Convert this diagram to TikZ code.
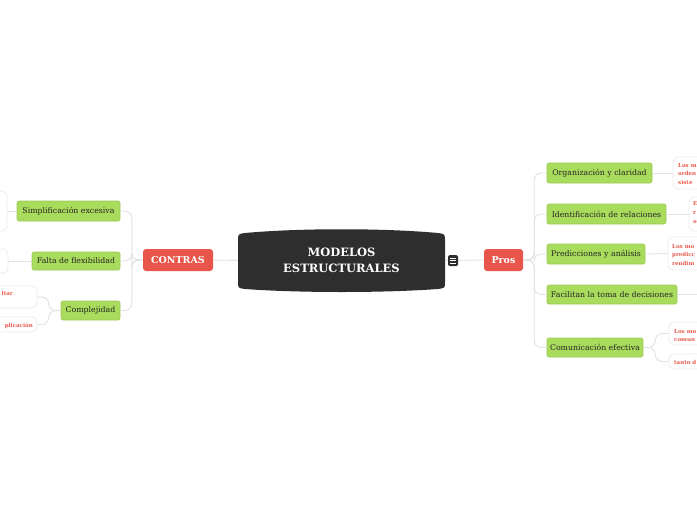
\documentclass[tikz,border=0pt]{standalone}
\usepackage{fontspec}
\setmainfont{DejaVu Serif}
\definecolor{linegray}{HTML}{E2E2E2}
\definecolor{greenfill}{HTML}{A9DB5C}
\definecolor{greenborder}{HTML}{9CCB58}
\definecolor{redfill}{HTML}{E8554A}
\definecolor{darkfill}{HTML}{2E2E2E}
\definecolor{notered}{HTML}{EA5A4E}
\definecolor{noteborder}{HTML}{ECECEC}
\begin{document}
\begin{tikzpicture}[x=1pt,y=-1pt,
  conn/.style={draw=linegray, line width=0.9pt, rounded corners=7pt},
  greennode/.style={rectangle, rounded corners=2pt, fill=greenfill, draw=greenborder, line width=0.6pt,
    font=\fontsize{7.8}{8.5}\selectfont, text=black!85, inner sep=0pt, minimum height=20pt},
  redbox/.style={rectangle, rounded corners=3pt, fill=redfill, text=white,
    font=\bfseries\fontsize{9.5}{10}\selectfont, inner sep=0pt, minimum height=22pt},
  notebox/.style={rectangle, draw=noteborder, fill=white, rounded corners=5pt, line width=0.8pt, inner sep=0pt},
  notetext/.style={text=notered, font=\bfseries\fontsize{5.5}{6.5}\selectfont, inner sep=0pt}
]
\useasboundingbox (0,0) rectangle (697,520);
\clip (0,0) rectangle (697,520);
\fill[white] (0,0) rectangle (697,520);

% central shape
\fill[darkfill] (238,241) -- (238,282) .. controls (238,288) .. (245,289)
  .. controls (300,293) and (383,293) .. (438,289) .. controls (445,288) .. (445,282)
  -- (445,241) .. controls (445,234) .. (438,233)
  .. controls (383,228) and (300,228) .. (245,233) .. controls (238,234) .. (238,241) -- cycle;
\node[minimum width=207pt, minimum height=60pt, inner sep=0pt, text=white, align=center,
  font=\bfseries\fontsize{11.5}{16}\selectfont] (center) at (341.5,260.5) {MODELOS\\ESTRUCTURALES};

% main red nodes
\node[redbox, minimum width=39pt] (pros) at (503.5,260) {Pros};
\node[redbox, minimum width=70pt] (contras) at (178,260) {CONTRAS};

% right green nodes
\node[greennode, minimum width=105pt] (r1) at (599.5,173) {Organización y claridad};
\node[greennode, minimum width=119pt] (r2) at (606.5,214) {Identificación de relaciones};
\node[greennode, minimum width=98pt] (r3) at (596,254) {Predicciones y análisis};
\node[greennode, minimum width=130pt, minimum height=19pt] (r4) at (612,294.5) {Facilitan la toma de decisiones};
\node[greennode, minimum width=96pt, minimum height=19pt] (r5) at (595,347.5) {Comunicación efectiva};

% left green nodes
\node[greennode, minimum width=103pt] (l1) at (68.5,211) {Simplificación excesiva};
\node[greennode, minimum width=88pt, minimum height=18pt] (l2) at (76,261) {Falta de flexibilidad};
\node[greennode, minimum width=59pt, minimum height=19pt] (l3) at (90.5,310.5) {Complejidad};

% right notes
\node[notebox, minimum width=67pt, minimum height=32pt] (n1) at (706.5,173) {};
\node[notebox, minimum width=60pt, minimum height=34pt] (n2) at (719,214) {};
\node[notebox, minimum width=67pt, minimum height=33pt] (n3) at (701.5,253.5) {};
\coordinate (n4) at (700,294.5);
\node[notebox, minimum width=67pt, minimum height=23pt] (c1) at (702.5,333.5) {};
\node[notebox, minimum width=67pt, minimum height=15pt] (c2) at (702.5,361.5) {};

\node[notetext, anchor=base west] (t1a) at (678,167) {Los m};
\node[notetext, anchor=base west] (t1b) at (678,175.5) {orden};
\node[notetext, anchor=base west] (t1c) at (678,184) {siste};
\node[notetext, anchor=base west] (t2a) at (693,205) {E};
\node[notetext, anchor=base west] (t2b) at (693,214) {r};
\node[notetext, anchor=base west] (t2c) at (693,223) {o};
\node[notetext, anchor=base west] (t3a) at (672,248) {Los mo};
\node[notetext, anchor=base west] (t3b) at (672,256.5) {predicc};
\node[notetext, anchor=base west] (t3c) at (672,265) {rendim};
\node[notetext, anchor=base west] (t5a) at (674,333) {Los mo};
\node[notetext, anchor=base west] (t5b) at (674,341.5) {comun};
\node[notetext, anchor=base west] (t5c) at (674,364) {tanto d};

% left notes
\node[notebox, minimum width=74pt, minimum height=40pt] (lb1) at (-30,211) {};
\node[notebox, minimum width=66pt, minimum height=24pt] (lb2) at (-25,261) {};
\node[notebox, minimum width=74pt, minimum height=22pt] (lb3a) at (0,297) {};
\node[notebox, minimum width=74pt, minimum height=15pt] (lb3b) at (0,324.5) {};
\node[notetext, anchor=base east] (tl1) at (13,295) {ltar};
\node[notetext, anchor=base east] (tl2) at (33,327) {plicación};

% connectors
\draw[conn] (contras.east) -- (center.west);
\draw[conn] (center.east) -- (pros.west);
\draw[conn] (pros.east) -- ++(11,0) |- (r1.west);
\draw[conn] (pros.east) -- ++(11,0) |- (r2.west);
\draw[conn] (pros.east) -- ++(11,0) |- (r3.west);
\draw[conn] (pros.east) -- ++(11,0) |- (r4.west);
\draw[conn] (pros.east) -- ++(11,0) |- (r5.west);
\draw[conn] (r1.east) -- (n1.west);
\draw[conn] (r2.east) -- (n2.west);
\draw[conn] (r3.east) -- (n3.west);
\draw[conn] (r4.east) -- (n4);
\draw[conn] (r5.east) -- ++(12,0) |- (c1.west);
\draw[conn] (r5.east) -- ++(12,0) |- (c2.west);
\draw[conn] (contras.west) -- ++(-11,0) |- (l1.east);
\draw[conn] (contras.west) -- ++(-11,0) |- (l2.east);
\draw[conn] (contras.west) -- ++(-11,0) |- (l3.east);
\draw[conn] (l1.west) -- (lb1.east);
\draw[conn] (l2.west) -- (lb2.east);
\draw[conn] (l3.west) -- ++(-12,0) |- (lb3a.east);
\draw[conn] (l3.west) -- ++(-12,0) |- (lb3b.east);

% icon
\node[fill=darkfill, rounded corners=1.5pt, minimum width=10pt, minimum height=11pt, inner sep=0pt] (icon) at (453,260.5) {};
\draw[white, line width=0.8pt] ([xshift=-2.8pt,yshift=2.5pt]icon.center) -- ([xshift=2.8pt,yshift=2.5pt]icon.center)
  ([xshift=-2.8pt]icon.center) -- ([xshift=2.8pt]icon.center)
  ([xshift=-2.8pt,yshift=-2.5pt]icon.center) -- ([xshift=2.8pt,yshift=-2.5pt]icon.center);
\end{tikzpicture}
\end{document}
